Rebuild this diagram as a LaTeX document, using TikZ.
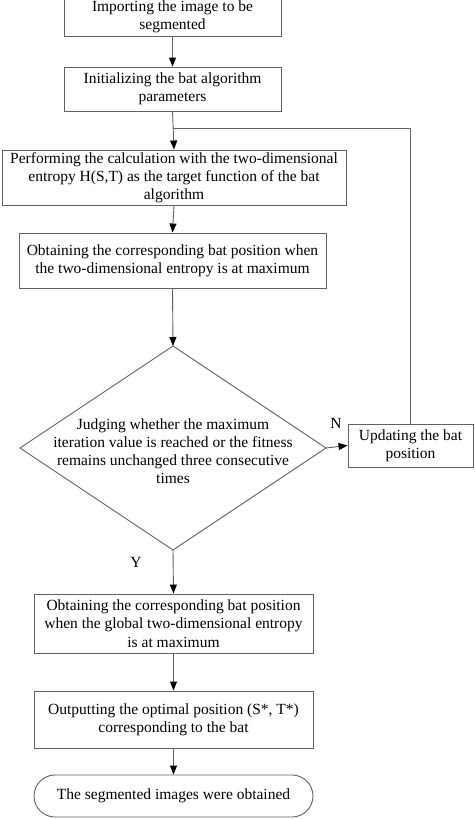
\documentclass[tikz,border=0pt]{standalone}
\usepackage{fontspec}
\setmainfont{Liberation Serif}
\usetikzlibrary{arrows.meta}
\definecolor{ln}{rgb}{0.38,0.38,0.38}
\begin{document}
\begin{tikzpicture}[x=1pt,y=1pt,
  font=\fontsize{15.5}{18.2}\selectfont,
  box/.style={draw=ln, line width=0.9pt, rectangle, align=center, inner sep=0pt},
  conn/.style={draw=ln, line width=0.9pt},
  arr/.style={conn, -{Triangle[length=9pt,width=7pt,fill=black,color=black]}},
  lbl/.style={inner sep=0pt, font=\fontsize{15.5}{17}\selectfont}
]
\useasboundingbox (0,0) rectangle (474,-819);
\node[box, minimum width=217, minimum height=38] (b1) at (172.5,-17) {Importing the image to be\\segmented};
\node[box, minimum width=217, minimum height=44] (b2) at (172.5,-89) {Initializing the bat algorithm\\parameters};
\node[box, minimum width=344, minimum height=55] (b3) at (174,-177.5) {Performing the calculation with the two-dimensional\\entropy H(S,T) as the target function of the bat\\algorithm};
\node[box, minimum width=307, minimum height=55] (b4) at (172.5,-260.5) {Obtaining the corresponding bat position when\\the two-dimensional entropy is at maximum};
\coordinate (dT) at (173,-346);
\coordinate (dR) at (326,-448);
\coordinate (dB) at (173,-550);
\coordinate (dL) at (20,-448);
\draw[conn] (dT) -- (dR) -- (dB) -- (dL) -- cycle;
\node[align=center, inner sep=0pt] (dt) at (173,-451) {Judging whether the maximum\\iteration value is reached or the fitness\\remains unchanged three consecutive\\times};
\node[box, minimum width=125, minimum height=43] (upd) at (410.5,-445.5) {Updating the bat\\position};
\node[box, minimum width=279, minimum height=59] (b5) at (173.5,-623.5) {Obtaining the corresponding bat position\\when the global two-dimensional entropy\\is at maximum};
\node[box, minimum width=279, minimum height=57] (b6) at (173.5,-719.5) {Outputting the optimal position (S*, T*)\\corresponding to the bat};
\node[box, minimum width=279, minimum height=42, rounded corners=21pt] (b7) at (173.5,-796) {The segmented images were obtained};
\coordinate (fb) at (173,-128);
\draw[arr] (b1.south) -- (b2.north);
\draw[arr] (b2.south) -- (b3.north);
\draw[arr] (b3.south) -- (b4.north);
\draw[arr] (b4.south) -- (dT);
\draw[arr] (dR) -- (upd.west);
\draw[conn] (upd.north) |- (fb);
\draw[arr] (dB) -- (b5.north);
\draw[arr] (b5.south) -- (b6.north);
\draw[arr] (b6.south) -- (b7.north);
\node[lbl] (n) at (336,-423) {N};
\node[lbl] (y) at (136,-562) {Y};
\end{tikzpicture}
\end{document}
